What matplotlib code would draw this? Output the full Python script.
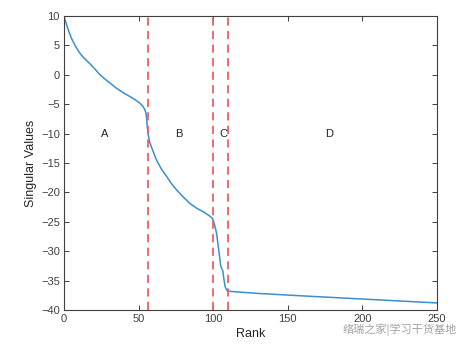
import matplotlib
matplotlib.use("Agg")
import matplotlib.pyplot as plt

# Curve samples (rank, singular value)
rank = [0, 1, 2, 3.1, 5, 7.6, 10, 12, 14, 16.5, 19, 21, 23.2, 26.4, 30, 35.3, 40, 44.2,
        48, 51, 53, 54.3, 55, 55.4, 55.8, 56.5, 57.6, 60, 62, 65, 68.8, 72, 75.5, 80,
        84.5, 89, 93.4, 97, 99, 100, 101.2, 102.3, 103.2, 104, 105, 105.6, 106.4, 107.2,
        108, 109, 110, 120, 131.4, 160, 190, 220, 250]
sv = [10, 9.1, 8.3, 7.5, 6.2, 4.9, 3.9, 3.25, 2.7, 2.1, 1.45, 0.9, 0.25, -0.5, -1.25, -2.3,
      -3.1, -3.7, -4.3, -4.85, -5.4, -6.0, -6.6, -7.5, -8.8, -10.3, -11.6, -13.2, -14.5,
      -15.9, -17.3, -18.5, -19.6, -20.8, -21.9, -22.7, -23.3, -23.9, -24.3, -24.7, -25.8,
      -27.0, -28.8, -30.4, -32.4, -32.9, -33.3, -34.8, -36.0, -36.6, -36.8, -37.0, -37.2,
      -37.6, -38.0, -38.4, -38.8]

boundaries = [56, 100, 110]
region_labels = ["A", "B", "C", "D"]
label_x = [27, 77, 107, 178]
label_y = -10

xticks = [0, 50, 100, 150, 200, 250]
yticks = [-40, -35, -30, -25, -20, -15, -10, -5, 0, 5, 10]

plt.rcParams['font.family'] = ['Liberation Sans', 'DejaVu Sans']

fig = plt.figure(figsize=(4.74, 3.52), dpi=100)
ax = fig.add_axes([64/474, 42/352, 373/474, 294/352])

ax.plot(rank, sv, color='#3a8fcf', lw=1.1)
for b in boundaries:
    ax.axvline(b, color='#f25c66', ls=(0, (4.5, 3)), lw=1.3)
for t, xx in zip(region_labels, label_x):
    ax.text(xx, label_y, t, ha='center', va='center', fontsize=8, color='#222222')

ax.set_xlim(0, 250)
ax.set_ylim(-40, 10)
ax.set_xticks(xticks)
ax.set_yticks(yticks)
ax.tick_params(direction='in', top=True, right=True, length=3.5, width=0.7,
               labelsize=8, colors='#404040', labelcolor='#404040', pad=3)
for s in ax.spines.values():
    s.set_color('#404040')
    s.set_linewidth(0.8)
ax.set_xlabel('Rank', fontsize=9, color='#262626', labelpad=3)
ax.set_ylabel('Singular Values', fontsize=9, color='#262626', labelpad=3)

fig.text(400/474, 0.0625, '络瑞之家|学习干货基地', fontsize=8, color='#8a8a8a', alpha=0.8,
         ha='center', va='center', family=['Noto Sans CJK SC', 'DejaVu Sans'])

fig.savefig('out.png', dpi=100)
